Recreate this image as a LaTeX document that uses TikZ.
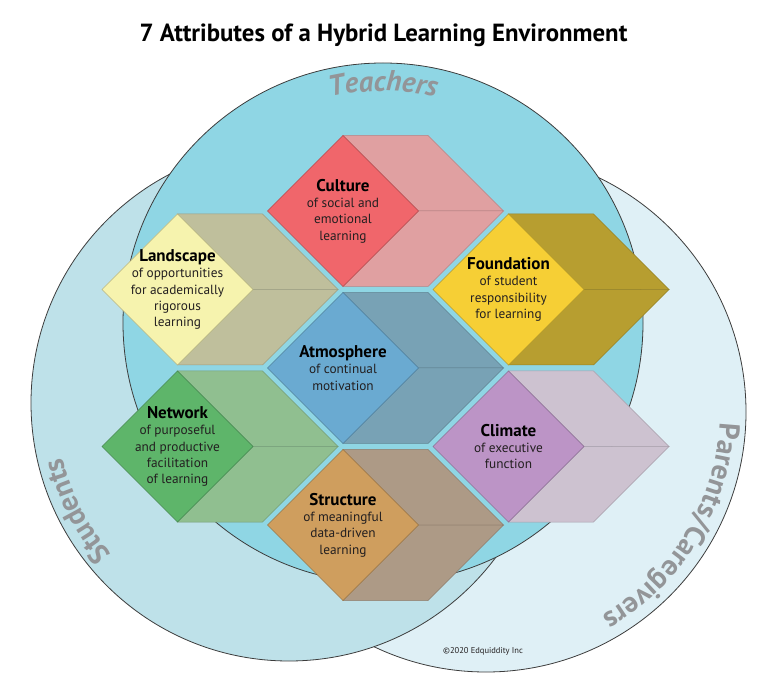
\documentclass[tikz,border=0pt]{standalone}
\usepackage{fontspec}
\setmainfont{PT Sans}
\usetikzlibrary{decorations.text}
\definecolor{cTeach}{RGB}{143,214,228}
\definecolor{cStud}{RGB}{190,225,233}
\definecolor{cPar}{RGB}{223,240,246}
\definecolor{edge}{RGB}{60,60,60}
\definecolor{lblgray}{RGB}{147,149,152}
\definecolor{txt}{RGB}{35,31,32}
\definecolor{cultD}{RGB}{240,102,107}\definecolor{cultP}{RGB}{224,160,161}
\definecolor{landD}{RGB}{246,243,174}\definecolor{landP}{RGB}{191,191,156}
\definecolor{foundD}{RGB}{246,207,53}\definecolor{foundP}{RGB}{183,158,48}
\definecolor{atmD}{RGB}{106,170,209}\definecolor{atmP}{RGB}{120,162,181}
\definecolor{netD}{RGB}{94,181,106}\definecolor{netP}{RGB}{144,191,144}
\definecolor{climD}{RGB}{188,148,198}\definecolor{climP}{RGB}{205,194,208}
\definecolor{strD}{RGB}{207,158,94}\definecolor{strP}{RGB}{173,154,134}
\newcommand\lblfont{\color{lblgray}\bfseries\fontsize{29}{29}\selectfont}
\newcommand\cubetitle{\fontsize{17}{17}\selectfont\bfseries\color{black}}
\tikzset{
  venn/.style={draw=edge,line width=0.8},
  cubetext/.style={align=center,text=txt,font=\fontsize{13.3}{16.3}\selectfont,inner sep=0pt},
}
% #1 name, #2 left x (px), #3 centre y (px), #4 diamond colour, #5 face colour, #6 title, #7 body
\newcommand\attrcube[7]{%
  \begin{scope}[shift={(#2,683-#3)}]
    \path[fill=#5,draw=#5!82!black,line width=0.5] (75.5,75.5) -- (160.5,75.5) -- (236,0) -- (151,0) -- cycle;
    \path[fill=#5,draw=#5!82!black,line width=0.5] (151,0) -- (236,0) -- (160.5,-75.5) -- (75.5,-75.5) -- cycle;
    \path[fill=#4,draw=#4!75!black,line width=0.5] (0,0) -- (75.5,75.5) -- (151,0) -- (75.5,-75.5) -- cycle;
    \node[cubetext] (#1) at (75.5,0) {{\cubetitle #6}\\#7};
  \end{scope}}
\begin{document}
\begin{tikzpicture}[x=1pt,y=1pt]
\useasboundingbox (0,0) rectangle (768,683);
% circles
\path[venn,fill=cPar] (486,271) circle[radius=260];
\path[venn,fill=cStud] (289,280) circle[radius=258];
\path[venn,fill=cTeach] (383,360) circle[radius=260];
% title
\node[anchor=base,font=\fontsize{24.8}{28}\selectfont\bfseries] (title) at (383.5,641) {7 Attributes of a Hybrid Learning Environment};
% circle labels
\path[decorate,decoration={text along path,text align=center,text={|\lblfont\itshape|Teachers}}]
  ([shift={(120:232)}]383,360) arc[start angle=120,end angle=60,radius=232];
\path[decorate,decoration={text along path,text align=center,text={|\lblfont|Students}}]
  ([shift={(242:233)}]289,280) arc[start angle=242,end angle=172,radius=233];
\path[decorate,decoration={text along path,text align=center,text={|\lblfont|Parents/Caregivers}}]
  ([shift={(20:234)}]486,271) arc[start angle=20,end angle=-83,radius=234];
% cubes
\attrcube{culture}{267.5}{211}{cultD}{cultP}{Culture}{of social and\\emotional\\learning}
\attrcube{landscape}{102}{289.5}{landD}{landP}{Landscape}{of opportunities\\for academically\\rigorous\\learning}
\attrcube{foundation}{433}{289.5}{foundD}{foundP}{Foundation}{of student\\responsibility\\for learning}
\attrcube{atmosphere}{267.5}{368}{atmD}{atmP}{Atmosphere}{of continual\\motivation}
\attrcube{network}{102}{446.5}{netD}{netP}{Network}{of purposeful\\and productive\\facilitation\\of learning}
\attrcube{climate}{433}{446.5}{climD}{climP}{Climate}{of executive\\function}
\attrcube{structure}{267.5}{525}{strD}{strP}{Structure}{of meaningful\\data-driven\\learning}
% copyright
\node[font=\fontsize{8.5}{10}\selectfont,text=txt] (copy) at (483,32) {\textcopyright2020 Edquiddity Inc};
\end{tikzpicture}
\end{document}
